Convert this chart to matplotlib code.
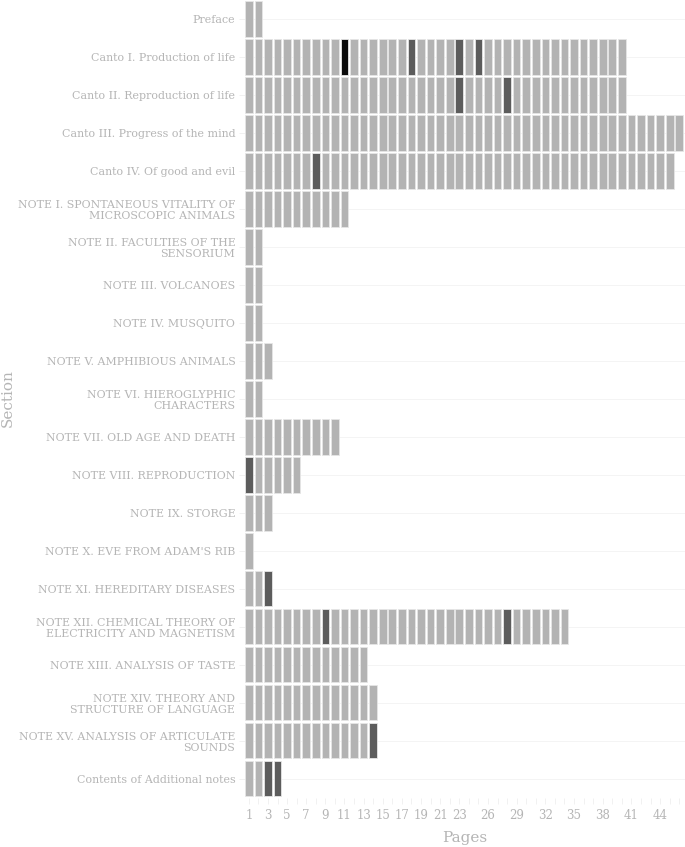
import matplotlib
matplotlib.use("Agg")
import matplotlib.pyplot as plt
from matplotlib.patches import Rectangle

# Sections, number of pages in each, and the pages drawn darker
sections = [
    "Preface",
    "Canto I. Production of life",
    "Canto II. Reproduction of life",
    "Canto III. Progress of the mind",
    "Canto IV. Of good and evil",
    "NOTE I. SPONTANEOUS VITALITY OF\nMICROSCOPIC ANIMALS",
    "NOTE II. FACULTIES OF THE\nSENSORIUM",
    "NOTE III. VOLCANOES",
    "NOTE IV. MUSQUITO",
    "NOTE V. AMPHIBIOUS ANIMALS",
    "NOTE VI. HIEROGLYPHIC\nCHARACTERS",
    "NOTE VII. OLD AGE AND DEATH",
    "NOTE VIII. REPRODUCTION",
    "NOTE IX. STORGE",
    "NOTE X. EVE FROM ADAM'S RIB",
    "NOTE XI. HEREDITARY DISEASES",
    "NOTE XII. CHEMICAL THEORY OF\nELECTRICITY AND MAGNETISM",
    "NOTE XIII. ANALYSIS OF TASTE",
    "NOTE XIV. THEORY AND\nSTRUCTURE OF LANGUAGE",
    "NOTE XV. ANALYSIS OF ARTICULATE\nSOUNDS",
    "Contents of Additional notes",
]
page_counts = [2, 40, 40, 46, 45, 11, 2, 2, 2, 3, 2, 10, 6, 3, 1, 3, 34, 13, 14, 14, 4]
dark_pages = [[], [18, 23, 25], [23, 28], [], [8], [], [], [], [], [], [], [], [1], [], [],
              [3], [9, 28], [], [], [14], [3, 4]]
black_pages = [[], [11], [], [], [], [], [], [], [], [], [], [], [], [], [], [], [], [], [], [], []]

x_ticks = [1, 3, 5, 7, 9, 11, 13, 15, 17, 19, 21, 23, 26, 29, 32, 35, 38, 41, 44]

TXT = "#b5b5b5"
plt.rcParams["font.family"] = ["DejaVu Serif"]

fig = plt.figure(figsize=(6.85, 8.47), dpi=100)
ax = fig.add_axes([245 / 685, 49.5 / 847, 440 / 685, 797.5 / 847])

for row, n in enumerate(page_counts):
    for p in range(1, n + 1):
        if p in black_pages[row]:
            c = "#0b0b0b"
        elif p in dark_pages[row]:
            c = "#5c5c5c"
        else:
            c = "#b3b3b3"
        ax.add_patch(Rectangle((p - 0.4, row - 0.47), 0.8, 0.94,
                               facecolor=c, edgecolor="#e6e6e6", linewidth=0.6, zorder=2))

ax.set_xlim(0.6, 46.6)
ax.set_ylim(len(sections) - 0.5, -0.5)

ax.set_yticks(range(len(sections)))
ax.set_yticklabels(sections, fontsize=7.9, color=TXT, linespacing=1.15)
ax.set_xticks(x_ticks)
ax.set_xticklabels([str(t) for t in x_ticks], fontsize=8.5, color=TXT)
ax.set_xticks(range(1, 47), minor=True)

ax.tick_params(axis="y", length=4, width=0.5, color="#ebebeb", pad=3)
ax.tick_params(axis="x", which="both", length=4, width=0.5, color="#ebebeb", pad=4)

ax.grid(axis="y", color="#f2f2f2", linewidth=0.6, zorder=0)
ax.set_axisbelow(True)
for s in ax.spines.values():
    s.set_visible(False)

ax.set_xlabel("Pages", fontsize=11, color=TXT, labelpad=7)
fig.text(8 / 685, 1 - 398 / 847, "Section", rotation=90, fontsize=11, color=TXT,
         ha="center", va="center")

fig.savefig("out.png", dpi=100)
